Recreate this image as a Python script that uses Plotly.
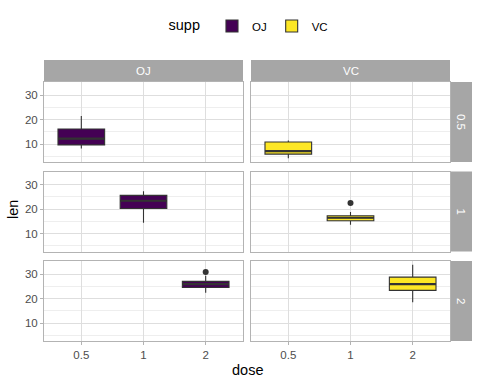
import numpy as np
import plotly.graph_objects as go

dose_levels = ["0.5", "1", "2"]
supp_levels = ["OJ", "VC"]
fill_colors = {"OJ": "#440154", "VC": "#FDE725"}

len_OJ_05 = [15.2, 21.5, 17.6, 9.7, 14.5, 10.0, 8.2, 9.4, 16.5, 9.7]
len_OJ_1 = [19.7, 23.3, 23.6, 26.4, 20.0, 25.2, 25.8, 21.2, 14.5, 27.3]
len_OJ_2 = [25.5, 26.4, 22.4, 24.5, 24.8, 30.9, 26.4, 27.3, 29.4, 23.0]
len_VC_05 = [4.2, 11.5, 7.3, 5.8, 6.4, 10.0, 11.2, 11.2, 5.2, 7.0]
len_VC_1 = [16.5, 16.5, 15.2, 17.3, 22.5, 17.3, 13.6, 14.5, 18.8, 15.5]
len_VC_2 = [23.6, 18.5, 33.9, 25.5, 26.4, 32.5, 26.7, 21.5, 23.3, 29.5]

groups = {
    ("OJ", "0.5"): len_OJ_05, ("OJ", "1"): len_OJ_1, ("OJ", "2"): len_OJ_2,
    ("VC", "0.5"): len_VC_05, ("VC", "1"): len_VC_1, ("VC", "2"): len_VC_2,
}

W, H = 480, 384
L, R, T, B = 44, 8, 60, 43
pw, ph = W - L - R, H - T - B
col_px = [(44, 243), (251, 450)]
row_px = [(82, 162), (171.5, 251.5), (261, 341)]
strip = 22

def xdom(a, b):
    return [(a - L) / pw, (b - L) / pw]

def ydom(a, b):
    return [(H - B - b) / ph, (H - B - a) / ph]

all_vals = np.concatenate([np.array(v) for v in groups.values()])
lo, hi = all_vals.min(), all_vals.max()
pad = 0.05 * (hi - lo)
yrange = [lo - pad, hi + pad]

font = "Liberation Sans, Arial, sans-serif"
fig = go.Figure()
layout = {}
shapes = []
annotations = []
legend_done = set()

for ri, dose in enumerate(dose_levels):
    for ci, supp in enumerate(supp_levels):
        k = ri * 2 + ci + 1
        xa = "x" if k == 1 else f"x{k}"
        ya = "y" if k == 1 else f"y{k}"
        xkey = "xaxis" if k == 1 else f"xaxis{k}"
        ykey = "yaxis" if k == 1 else f"yaxis{k}"
        vals = np.array(groups[(supp, dose)])
        pos = dose_levels.index(dose) + 1
        q1, med, q3 = np.percentile(vals, [25, 50, 75])
        iqr = q3 - q1
        inside = vals[(vals >= q1 - 1.5 * iqr) & (vals <= q3 + 1.5 * iqr)]
        outl = vals[(vals < q1 - 1.5 * iqr) | (vals > q3 + 1.5 * iqr)]
        show = supp not in legend_done
        legend_done.add(supp)
        fig.add_trace(go.Box(
            x=[pos], q1=[q1], median=[med], q3=[q3],
            lowerfence=[inside.min()], upperfence=[inside.max()],
            width=0.75, whiskerwidth=0, fillcolor=fill_colors[supp],
            line=dict(color="#333333", width=1.1), boxpoints=False,
            name=supp, legendgroup=supp, showlegend=show,
            xaxis=xa, yaxis=ya, hoverinfo="skip"))
        fig.add_trace(go.Scatter(
            x=[pos - 0.375, pos + 0.375], y=[med, med], mode="lines",
            line=dict(color="#333333", width=2.2), showlegend=False,
            xaxis=xa, yaxis=ya, hoverinfo="skip"))
        if len(outl):
            fig.add_trace(go.Scatter(
                x=[pos] * len(outl), y=outl, mode="markers",
                marker=dict(color="#333333", size=6), showlegend=False,
                xaxis=xa, yaxis=ya, hoverinfo="skip"))
        layout[xkey] = dict(
            domain=xdom(*col_px[ci]), anchor=ya, range=[0.4, 3.6], automargin=False,
            tickvals=[1, 2, 3], ticktext=dose_levels,
            showticklabels=(ri == 2), ticks="outside" if ri == 2 else "",
            ticklen=3, tickcolor="#B3B3B3",
            showgrid=True, gridcolor="#DEDEDE", gridwidth=0.7,
            showline=True, mirror=True, linecolor="#B3B3B3", linewidth=1,
            zeroline=False, tickfont=dict(size=11.5, color="#4D4D4D", family=font))
        layout[ykey] = dict(
            domain=ydom(*row_px[ri]), anchor=xa, range=yrange, automargin=False,
            tickvals=[10, 20, 30], showticklabels=(ci == 0),
            ticks="outside" if ci == 0 else "", ticklen=3, tickcolor="#B3B3B3",
            showgrid=True, gridcolor="#DEDEDE", gridwidth=0.7,
            minor=dict(tickvals=[5, 15, 25, 35], showgrid=True, gridcolor="#EEEEEE", gridwidth=0.4),
            showline=True, mirror=True, linecolor="#B3B3B3", linewidth=1,
            zeroline=False, tickfont=dict(size=11.5, color="#4D4D4D", family=font))

# column strips
for ci, supp in enumerate(supp_levels):
    a, b = col_px[ci]
    d = xdom(a, b)
    y0 = (H - B - row_px[0][0]) / ph
    y1 = (H - B - row_px[0][0] + strip) / ph
    shapes.append(dict(type="rect", xref="paper", yref="paper", x0=d[0], x1=d[1],
                       y0=y0, y1=y1, fillcolor="#A6A6A6", line=dict(width=0), layer="below"))
    annotations.append(dict(text=supp, xref="paper", yref="paper", x=(d[0] + d[1]) / 2,
                            y=(y0 + y1) / 2, xanchor="center", yanchor="middle", showarrow=False,
                            font=dict(color="white", size=11.5, family=font)))
# row strips
for ri, dose in enumerate(dose_levels):
    d = ydom(*row_px[ri])
    x0 = (col_px[1][1] - L) / pw
    x1 = (col_px[1][1] + strip - L) / pw
    shapes.append(dict(type="rect", xref="paper", yref="paper", x0=x0, x1=x1,
                       y0=d[0], y1=d[1], fillcolor="#A6A6A6", line=dict(width=0), layer="below"))
    annotations.append(dict(text=dose, xref="paper", yref="paper", x=(x0 + x1) / 2,
                            y=(d[0] + d[1]) / 2, xanchor="center", yanchor="middle",
                            showarrow=False, textangle=90,
                            font=dict(color="white", size=11.5, family=font)))

# axis titles
annotations.append(dict(text="dose", xref="paper", yref="paper",
                        x=((col_px[0][0] + col_px[1][1]) / 2 - L) / pw, y=(H - B - 370) / ph,
                        xanchor="center", yanchor="middle",
                        showarrow=False, font=dict(color="black", size=14.5, family=font)))
annotations.append(dict(text="len", xref="paper", yref="paper",
                        x=(13 - L) / pw, y=(H - B - 210) / ph, textangle=-90,
                        xanchor="center", yanchor="middle",
                        showarrow=False, font=dict(color="black", size=14.5, family=font)))

fig.update_layout(
    width=W, height=H, margin=dict(l=L, r=R, t=T, b=B, autoexpand=False),
    plot_bgcolor="white", paper_bgcolor="white",
    shapes=shapes, annotations=annotations,
    legend=dict(orientation="h", xref="container", yref="container",
                x=250 / W, xanchor="center",
                y=1 - 26 / H, yanchor="middle",
                title=dict(text="supp ", font=dict(size=14.5, color="black", family=font)),
                font=dict(size=11.5, color="black", family=font),
                itemwidth=30, tracegroupgap=0),
    **layout)

fig.write_html("out.html", config={"displayModeBar": False},
               post_script="document.body.style.margin='0';document.body.style.overflow='hidden';")
